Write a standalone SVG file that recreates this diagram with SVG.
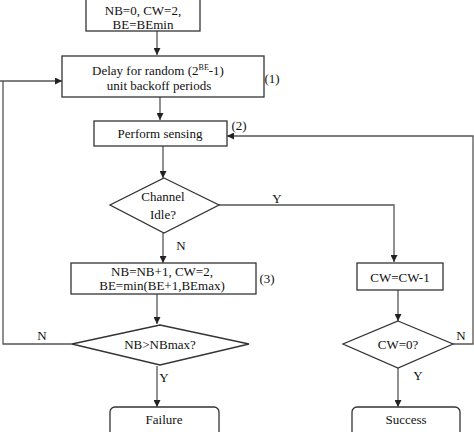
<svg xmlns="http://www.w3.org/2000/svg" width="474" height="432" viewBox="0 0 474 432">
<defs>
<marker id="arr" viewBox="0 0 10 10" refX="10" refY="5" markerWidth="7" markerHeight="7" markerUnits="userSpaceOnUse" orient="auto">
<path d="M0,0 L10,5 L0,10 z" fill="#222"/>
</marker>
</defs>
<style>
.box{fill:#fff;stroke:#333;stroke-width:1.3}
.ln{fill:none;stroke:#555;stroke-width:1.3}
.t{font-size:13px;fill:#111}
.c{text-anchor:middle}
.sup{font-size:8px}
</style>
<rect width="474" height="432" fill="#fff"/>
<g font-family="'Liberation Serif', 'Times New Roman', serif">
<g id="connectors">
<path class="ln" d="M157,31 V55" marker-end="url(#arr)"/>
<path class="ln" d="M160,97 V120" marker-end="url(#arr)"/>
<path class="ln" d="M163,146 V178" marker-end="url(#arr)"/>
<path class="ln" d="M219,205 H394 V262" marker-end="url(#arr)"/>
<path class="ln" d="M163,233 V263" marker-end="url(#arr)"/>
<path class="ln" d="M157,294 V324" marker-end="url(#arr)"/>
<path class="ln" d="M72,344 H3 V81"/>
<path class="ln" d="M0,81 H62" marker-end="url(#arr)"/>
<path class="ln" d="M157,366 V407" marker-end="url(#arr)"/>
<path class="ln" d="M398,290 V321" marker-end="url(#arr)"/>
<path class="ln" d="M453,344 H473 V136 H227" marker-end="url(#arr)"/>
<path class="ln" d="M398,368 V407" marker-end="url(#arr)"/>
<text class="t c" x="277" y="203">Y</text>
<text class="t c" x="181" y="250">N</text>
<text class="t c" x="42" y="340">N</text>
<text class="t c" x="164" y="382">Y</text>
<text class="t c" x="461" y="340">N</text>
<text class="t c" x="418" y="380">Y</text>
</g>
<g id="init">
<rect class="box" x="86" y="-5" width="114" height="36"/>
<text class="t c" x="143" y="15">NB=0, CW=2,</text>
<text class="t c" x="143" y="29">BE=BEmin</text>
</g>
<g id="delay">
<rect class="box" x="62" y="56" width="202" height="41"/>
<text class="t c" x="158" y="75">Delay for random (2<tspan class="sup" dy="-5">BE</tspan><tspan dy="5">-1)</tspan></text>
<text class="t c" x="159" y="90">unit backoff periods</text>
<text class="t c" x="272" y="83">(1)</text>
</g>
<g id="sensing">
<rect class="box" x="94" y="121" width="133" height="25"/>
<text class="t c" x="160" y="138">Perform sensing</text>
<text class="t c" x="239" y="130">(2)</text>
</g>
<g id="idle">
<path class="box" d="M164,178 L219,205 L164,233 L110,205 Z"/>
<text class="t c" x="163" y="201">Channel</text>
<text class="t c" x="163" y="219">Idle?</text>
</g>
<g id="backoff">
<rect class="box" x="71" y="263" width="185" height="31"/>
<text class="t c" x="162" y="276">NB=NB+1, CW=2,</text>
<text class="t c" x="162" y="290">BE=min(BE+1,BEmax)</text>
<text class="t c" x="267" y="283">(3)</text>
</g>
<g id="cwdec">
<rect class="box" x="357" y="263" width="86" height="27"/>
<text class="t c" x="400" y="282">CW=CW-1</text>
</g>
<g id="nbmax">
<path class="box" d="M160,325 L249,344 L160,365 L72,344 Z"/>
<text class="t c" x="160" y="349">NB&gt;NBmax?</text>
</g>
<g id="cwzero">
<path class="box" d="M398,321 L453,344 L398,368 L343,344 Z"/>
<text class="t c" x="398" y="349">CW=0?</text>
</g>
<g id="failure">
<rect class="box" x="110" y="407" width="109" height="35" rx="5"/>
<text class="t c" x="164" y="424">Failure</text>
</g>
<g id="success">
<rect class="box" x="352" y="407" width="108" height="35" rx="5"/>
<text class="t c" x="406" y="424">Success</text>
</g>
</g>
</svg>
